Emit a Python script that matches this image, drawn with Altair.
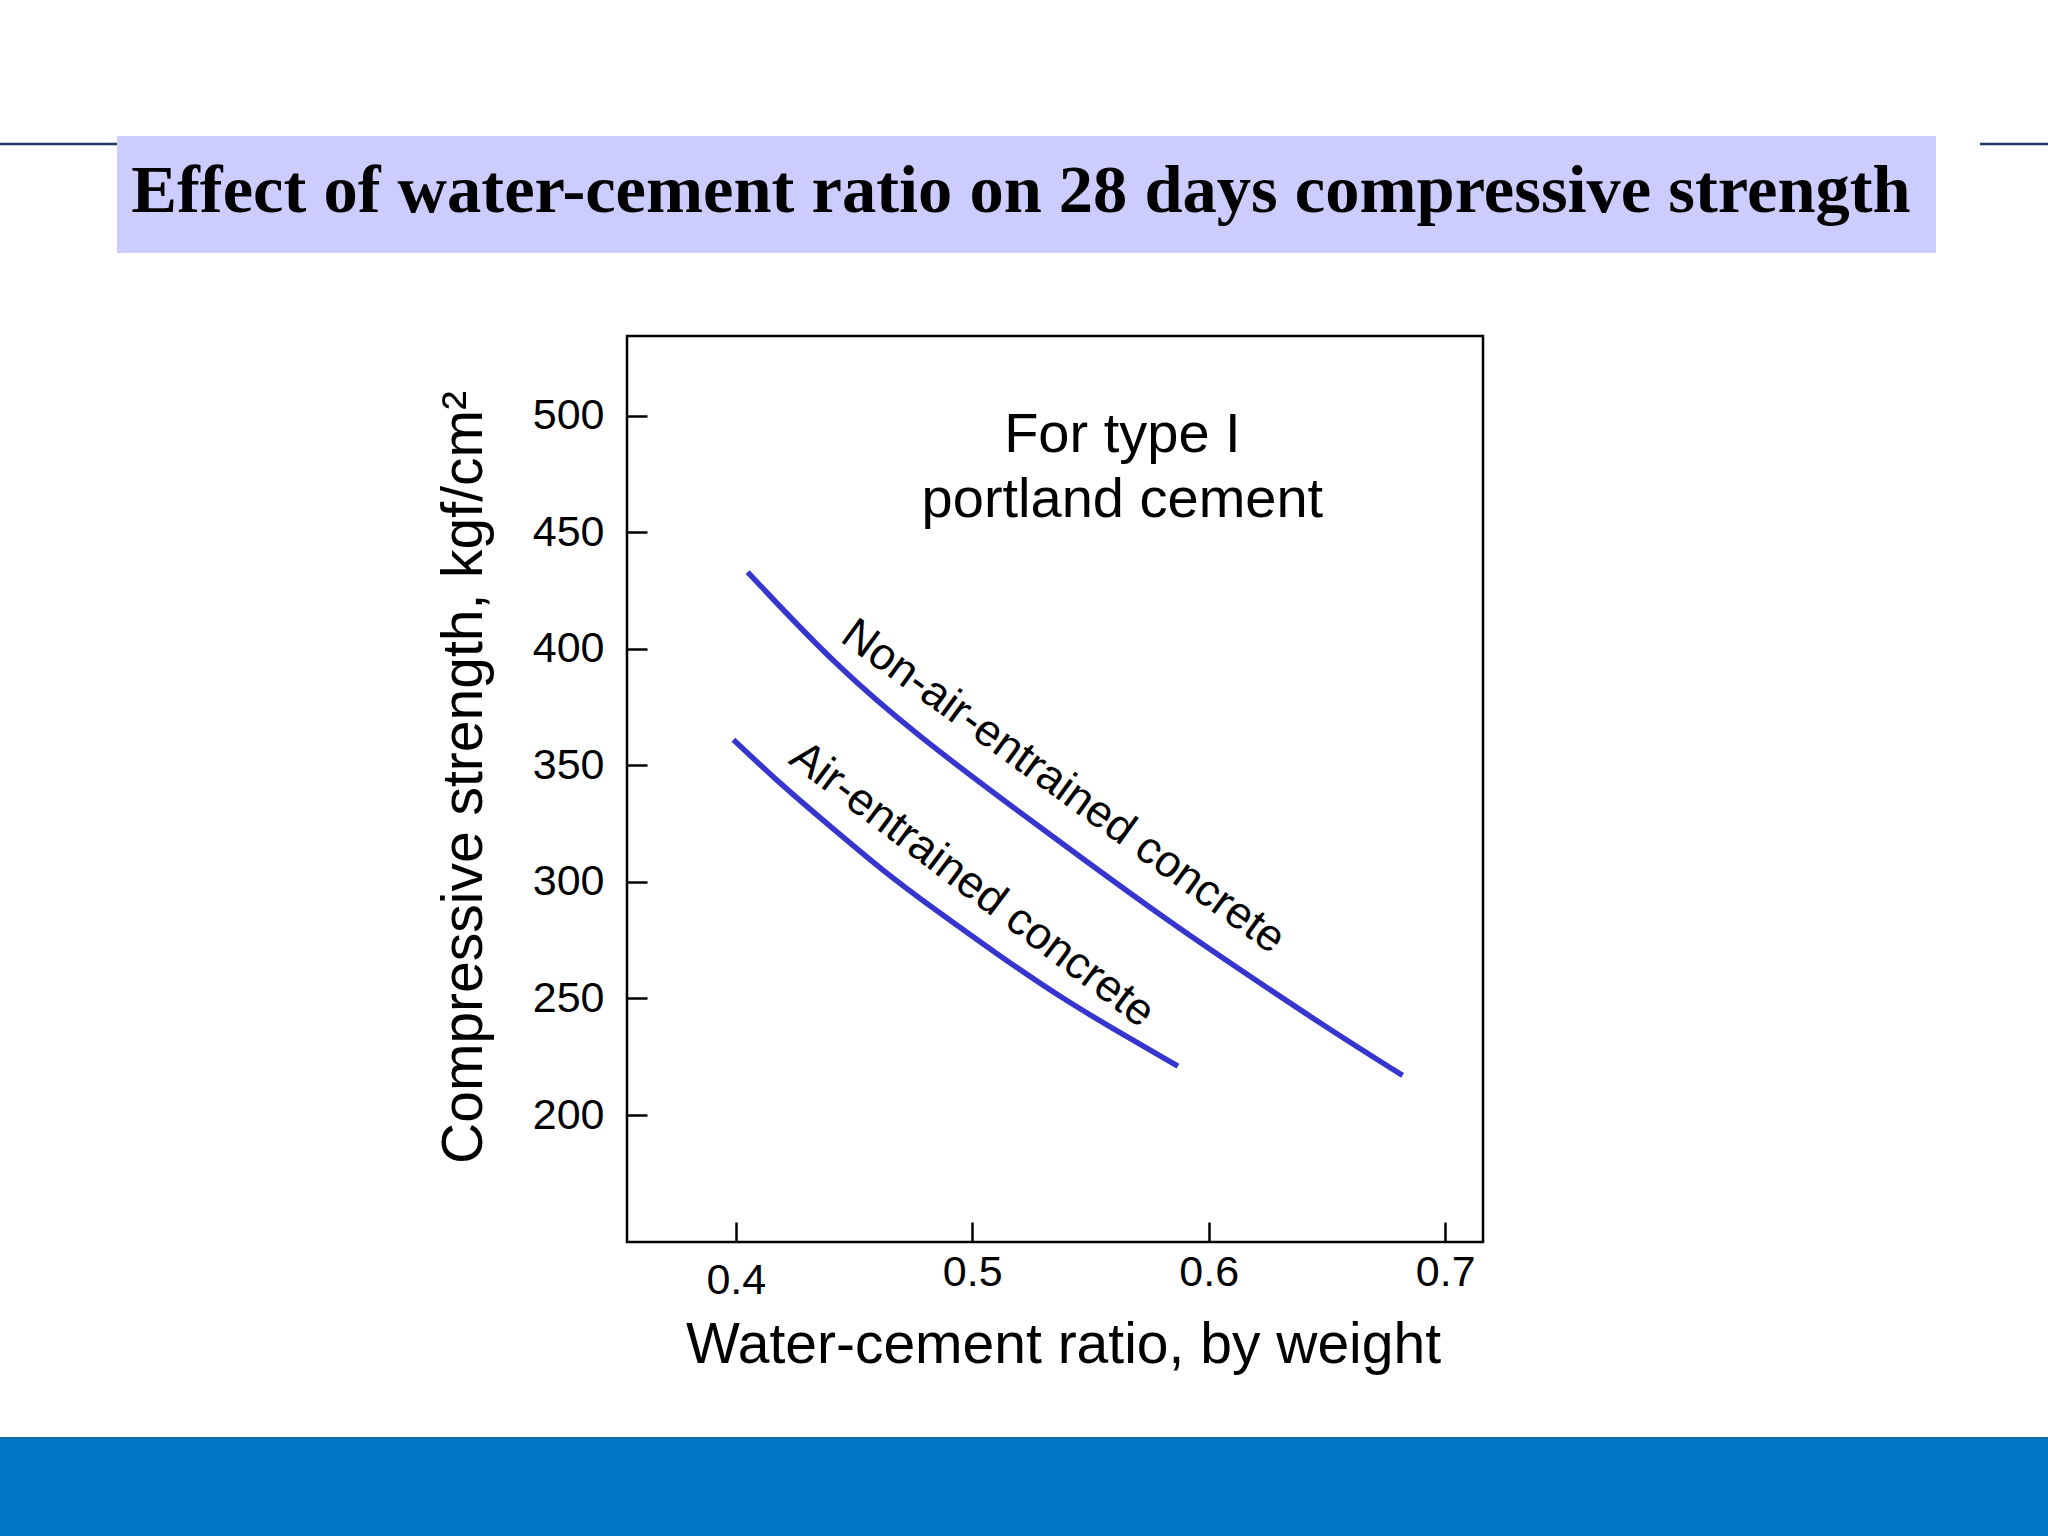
import altair as alt
import pandas as pd

# 28-day compressive strength (kgf/cm²) against water-cement ratio, type I cement
non_air_wc = [0.405, 0.443, 0.478, 0.512, 0.548, 0.582, 0.605, 0.652, 0.682]
non_air_strength = [433, 392, 362, 336, 309, 284, 268, 236, 217]
air_wc = [0.399, 0.420, 0.441, 0.462, 0.483, 0.512, 0.538, 0.568, 0.587]
air_strength = [361, 341, 323, 305, 289, 268, 250, 232, 221]

series_names = ["Non-air-entrained concrete", "Air-entrained concrete"]

x_ticks = [0.4, 0.5, 0.6, 0.7]
y_ticks = [200, 250, 300, 350, 400, 450, 500]

# where each curve's name sits along it (data coordinates)
label_wc = [0.5386, 0.5001]
label_strength = [341, 299]

note_lines = ["For type I", "portland cement"]
note_wc = [0.5635, 0.5635]
note_strength = [484.5, 456.7]

heading = "Effect of water-cement ratio on 28 days compressive strength"

curves = pd.DataFrame({
    "series": [series_names[0]] * len(non_air_wc) + [series_names[1]] * len(air_wc),
    "wc": non_air_wc + air_wc,
    "strength": non_air_strength + air_strength,
})
labels = pd.DataFrame({"text": series_names, "wc": label_wc, "strength": label_strength})
notes = pd.DataFrame({"text": note_lines, "wc": note_wc, "strength": note_strength})

W, H = 856, 906
x_scale = alt.Scale(domain=[0.354, 0.716], nice=False, zero=False)
y_scale = alt.Scale(domain=[145.5, 534.3], nice=False, zero=False)

x_axis = alt.Axis(
    values=x_ticks, format=".1f", title="Water-cement ratio, by weight",
    offset=-20, tickSize=20, domain=False, grid=False,
    labelPadding={"condition": {"test": "datum.value < 0.45", "value": 17}, "value": 9},
    titleX=436, titleY=140, titleBaseline="alphabetic", titleFontSize=57,
)
y_axis = alt.Axis(
    values=y_ticks, format="d", title="Compressive strength, kgf/cm²",
    offset=-20, tickSize=20, domain=False, grid=False, labelPadding=23,
    titleX=-166, titleY=441, titleBaseline="alphabetic", titleFontSize=57,
)

one = alt.Data(values=[{"k": 0}])

banner = alt.Chart(one).mark_rect(color="#ccccff").encode(
    x=alt.value(-510), x2=alt.value(1309), y=alt.value(-200), y2=alt.value(-83)
)
banner_text = alt.Chart(one).mark_text(
    text=heading, font="Liberation Serif", fontWeight="bold", fontSize=68.5,
    color="black", align="center", baseline="alphabetic",
).encode(x=alt.value(394), y=alt.value(-124))
rule_left = alt.Chart(one).mark_rule(color="#1f3a68", strokeWidth=2.5).encode(
    x=alt.value(-627), x2=alt.value(-510), y=alt.value(-192)
)
rule_right = alt.Chart(one).mark_rule(color="#1f3a68", strokeWidth=2.5).encode(
    x=alt.value(1353), x2=alt.value(1421), y=alt.value(-192)
)
footer = alt.Chart(one).mark_rect(color="#0078c8").encode(
    x=alt.value(-627), x2=alt.value(1421), y=alt.value(1101), y2=alt.value(1200)
)
footer_edge = alt.Chart(one).mark_rule(color="#1766a6", strokeWidth=2).encode(
    x=alt.value(-627), x2=alt.value(1421), y=alt.value(1102)
)

lines = alt.Chart(curves).mark_line(color="#3636cf", strokeWidth=5.5, interpolate="basis").encode(
    x=alt.X("wc:Q", scale=x_scale, axis=x_axis),
    y=alt.Y("strength:Q", scale=y_scale, axis=y_axis),
    detail="series:N",
)

non_air_label = alt.Chart(labels).transform_filter(
    alt.datum.text == series_names[0]
).mark_text(angle=36, font="Liberation Sans", fontSize=45, color="black",
            align="center", baseline="middle").encode(
    x=alt.X("wc:Q", scale=x_scale), y=alt.Y("strength:Q", scale=y_scale), text="text:N"
)
air_label = alt.Chart(labels).transform_filter(
    alt.datum.text == series_names[1]
).mark_text(angle=37, font="Liberation Sans", fontSize=45, color="black",
            align="center", baseline="middle").encode(
    x=alt.X("wc:Q", scale=x_scale), y=alt.Y("strength:Q", scale=y_scale), text="text:N"
)
note = alt.Chart(notes).mark_text(
    font="Liberation Sans", fontSize=56, color="black", align="center", baseline="alphabetic"
).encode(x=alt.X("wc:Q", scale=x_scale), y=alt.Y("strength:Q", scale=y_scale), text="text:N")

chart = alt.layer(
    banner, banner_text, rule_left, rule_right, footer, footer_edge,
    lines, non_air_label, air_label, note,
).properties(
    width=W, height=H,
    padding={"left": 627, "top": 336, "right": 2048 - 627 - W, "bottom": 1536 - 336 - H},
    autosize=alt.AutoSizeParams(type="none"),
    background="white",
).configure_view(
    stroke="black", strokeWidth=2.5
).configure_axis(
    labelFont="Liberation Sans", labelFontSize=43, labelColor="black",
    titleFont="Liberation Sans", titleFontWeight="normal", titleColor="black",
    tickColor="black", tickWidth=2.5,
)

chart.save("out.html", embed_options={"renderer": "svg", "actions": False})
